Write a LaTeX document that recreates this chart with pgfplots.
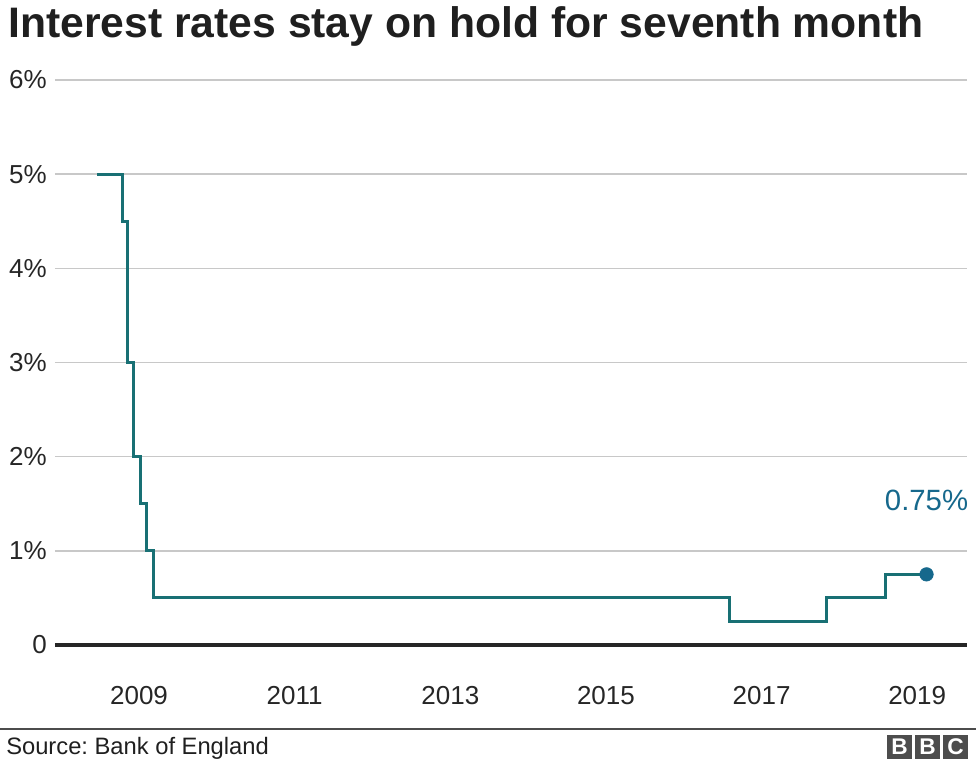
\documentclass[border=0pt]{standalone}
\usepackage{fontspec}
\setmainfont{Liberation Sans}
\usepackage{pgfplots}
\pgfplotsset{compat=1.18}
\definecolor{rateline}{RGB}{24,112,116}
\definecolor{ratedot}{RGB}{22,104,140}
\definecolor{gridgrey}{RGB}{200,200,200}
\definecolor{bbcgrey}{RGB}{77,77,77}
\def\px{0.75pt}
\frenchspacing
\begin{document}
\begin{tikzpicture}
\useasboundingbox (0,0) rectangle (976*\px,762*\px);
\begin{axis}[
  at={(55*\px,117*\px)}, anchor=south west,
  scale only axis, width=912*\px, height=565*\px,
  xmin=2007.92, xmax=2019.64, ymin=0, ymax=6,
  axis line style={draw=none},
  major tick length=0pt,
  xtick={2009,2011,2013,2015,2017,2019},
  xticklabels={2009,2011,2013,2015,2017,2019},
  ytick={0,1,2,3,4,5,6},
  yticklabels={0,1\%,2\%,3\%,4\%,5\%,6\%},
  ymajorgrids,
  grid style={gridgrey, line width=1.1pt},
  tick label style={font=\fontsize{19.5pt}{22pt}\selectfont, text=black!85},
  yticklabel style={anchor=east, inner sep=0pt, xshift=-8*\px},
  xticklabel style={anchor=north, inner sep=0pt, yshift=-41*\px},
  clip=false,
]
\draw[black!85, line width=2.3pt] (rel axis cs:0,0) -- (rel axis cs:1,0);
\addplot[const plot mark left, rateline, line width=2.3pt] coordinates {
  (2008.46,5) (2008.79,4.5) (2008.85,3) (2008.93,2) (2009.02,1.5)
  (2009.10,1) (2009.18,0.5) (2016.59,0.25) (2017.84,0.5) (2018.59,0.75)
  (2019.12,0.75)
};
\addplot[only marks, mark=*, mark size=5.1pt, ratedot] coordinates {(2019.12,0.75)};
\node[text=ratedot, font=\fontsize{22pt}{26pt}\selectfont, anchor=center, yshift=74*\px]
  at (axis cs:2019.12,0.75) {0.75\%};
\end{axis}
\node[anchor=base west, inner sep=0pt, font=\fontsize{32pt}{38pt}\selectfont\bfseries, text=black!88]
  at (8*\px,724*\px) {Interest rates stay on hold for seventh month};
\draw[black!70, line width=1pt] (0,33*\px) -- (976*\px,33*\px);
\node[anchor=base west, inner sep=0pt, font=\fontsize{17.8pt}{21pt}\selectfont, text=black!88]
  at (6*\px,7*\px) {Source: Bank of England};
\foreach \i/\l in {0/B,1/B,2/C} {
  \fill[bbcgrey] (887*\px+\i*28*\px,3*\px) rectangle ++(25*\px,24*\px);
  \node[text=white, font=\fontsize{17pt}{17pt}\selectfont\bfseries, inner sep=0pt]
    at (899.5*\px+\i*28*\px,15*\px) {\l};
}
\end{tikzpicture}
\end{document}
